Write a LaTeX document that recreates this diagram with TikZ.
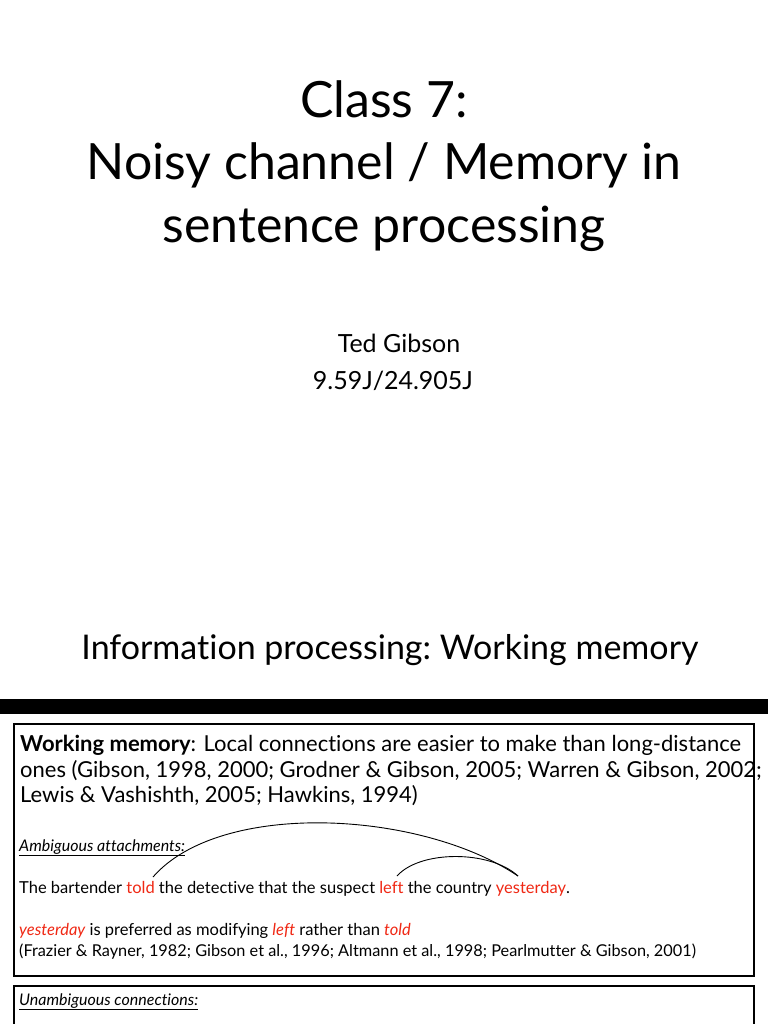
\documentclass[tikz,border=0pt]{standalone}
\usepackage{fontspec}
\setmainfont{Lato}[Ligatures=NoCommon]
\definecolor{hl}{RGB}{240,40,20}
\begin{document}
\begin{tikzpicture}[x=1pt,y=-1pt,
  txt/.style={inner sep=0pt,anchor=base west},
  ctr/.style={inner sep=0pt,anchor=base},
  frame/.style={draw=black,line width=2.5pt}]
\useasboundingbox (0,0) rectangle (768,1024);
\fill[white] (0,0) rectangle (768,1024);
\node[ctr,font=\fontsize{50}{56}\selectfont] (t1) at (384,118) {Class 7:};
\node[ctr,font=\fontsize{50}{56}\selectfont] (t2) at (384,180) {Noisy channel / Memory in};
\node[ctr,font=\fontsize{50}{56}\selectfont] (t3) at (384,243) {sentence processing};
\node[ctr,font=\fontsize{25}{28}\selectfont] (a1) at (399,352) {Ted Gibson};
\node[ctr,font=\fontsize{25}{28}\selectfont] (a2) at (393,389) {9.59J/24.905J};
\node[ctr,font=\fontsize{34}{38}\selectfont] (h) at (390,659) {Information processing:\ Working memory};
\fill[black] (0,699) rectangle (768,714);
\draw[frame] (14,724) rectangle (754,976);
\draw[frame] (14,986) rectangle (754,1030);
\node[txt,font=\fontsize{22}{26}\selectfont] (w1) at (20,751) {\textbf{Working memory}: Local connections are easier to make than long-distance};
\node[txt,font=\fontsize{22}{26}\selectfont] (w2) at (20,777) {ones (Gibson, 1998, 2000; Grodner \& Gibson, 2005; Warren \& Gibson, 2002;};
\node[txt,font=\fontsize{22}{26}\selectfont] (w3) at (20,802) {Lewis \& Vashishth, 2005; Hawkins, 1994)};
\node[txt,font=\fontsize{16}{19}\selectfont\itshape] (amb) at (19,851) {\underline{Ambiguous attachments:}};
\node[txt,font=\fontsize{16.5}{19}\selectfont] (s) at (19,893) {The bartender \textcolor{hl}{told} the detective that the suspect \textcolor{hl}{left} the country \textcolor{hl}{yesterday}.};
\node[txt,font=\fontsize{16.5}{19}\selectfont] (p1) at (19,935) {\textcolor{hl}{\itshape yesterday} is preferred as modifying \textcolor{hl}{\itshape left} rather than \textcolor{hl}{\itshape told}};
\node[txt,font=\fontsize{16.3}{19}\selectfont] (p2) at (19,956) {(Frazier \& Rayner, 1982; Gibson et al., 1996; Altmann et al., 1998; Pearlmutter \& Gibson, 2001)};
\coordinate (cTold) at (153,877);
\coordinate (cLeft) at (397,876);
\coordinate (cYest) at (518,876);
\draw[line width=0.9pt] (cTold) .. controls (220,800) and (420,810) .. (cYest);
\draw[line width=0.9pt] (cLeft) .. controls (420,850) and (490,850) .. (cYest);
\node[txt,font=\fontsize{16}{19}\selectfont\itshape] (un) at (19,1005) {\underline{Unambiguous connections:}};
\end{tikzpicture}
\end{document}
